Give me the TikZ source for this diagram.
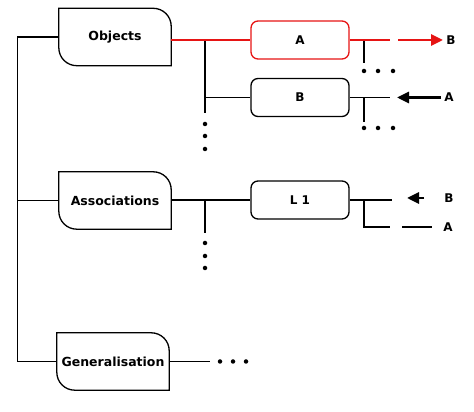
\documentclass[tikz,border=0pt]{standalone}
\usepackage{fontspec}
\setmainfont{DejaVu Sans}
\usetikzlibrary{arrows.meta,calc}
\definecolor{linered}{RGB}{230,20,20}
\newcommand\drawcat[1]{\draw[line width=1.3pt] (#1.north west) -- ($(#1.north east)+(-18,0)$) .. controls ($(#1.north east)+(-8,0)$) and ($(#1.north east)+(0,-8)$) .. ($(#1.north east)+(0,-18)$) -- (#1.south east) -- ($(#1.south west)+(18,0)$) .. controls ($(#1.south west)+(8,0)$) and ($(#1.south west)+(0,8)$) .. ($(#1.south west)+(0,18)$) -- cycle;}
\begin{document}
\begin{tikzpicture}[x=1pt,y=1pt,
  cat/.style={minimum width=112pt,minimum height=57pt,inner sep=0pt,font=\fontsize{12.5}{14}\selectfont\bfseries},
  item/.style={draw,rounded corners=7pt,line width=1.3pt,minimum width=98pt,minimum height=38pt,inner sep=0pt,font=\fontsize{12}{14}\selectfont\bfseries},
  conn/.style={line width=1.3pt},
  dot/.style={circle,fill,inner sep=0pt,minimum size=4.5pt},
  lab/.style={font=\fontsize{12}{14}\selectfont\bfseries,inner sep=0pt},
  thickarrow/.style={line width=2.8pt,-{Triangle[length=12pt,width=11pt]}}
]
\useasboundingbox (0,0) rectangle (474,412);
% category boxes
\node[cat] (obj) at (115,375) {Objects};
\drawcat{obj}
\node[cat] (asc) at (115,211.5) {Associations};
\drawcat{asc}
\node[cat] (gen) at (113,50.5) {Generalisation};
\drawcat{gen}
% items
\node[item,draw=linered] (A) at (300,372) {A};
\node[item] (B) at (300,314.5) {B};
\node[item] (L) at (300,212) {L 1};
% spine
\coordinate (sp) at (17.5,0);
\draw[conn] (obj.west) -| (gen.west -| sp) -- (gen.west);
\draw[conn] (asc.west) -- (asc.west -| sp);
% objects branch
\coordinate (br1) at (205,299);
\draw[conn] (br1 |- A.west) -- (br1);
\draw[conn,linered] (obj.east |- A.west) -- (A.west);
\draw[conn] (B.west -| br1) -- (B.west);
\node[dot] (d1) at (205,288) {};
\node[dot] (d2) at (205,276) {};
\node[dot] (d3) at (205,263) {};
% associations branch
\draw[conn] (asc.east |- L.west) -- (L.west);
\coordinate (br2) at (205,179);
\draw[conn] (br2 |- L.west) -- (br2);
\node[dot] (d4) at (205,169) {};
\node[dot] (d5) at (205,156) {};
\node[dot] (d6) at (205,144) {};
% generalisation
\coordinate (ge) at (210,0);
\draw[conn] (gen.east) -- (gen.east -| ge);
\node[dot] (d7) at (220,50.5) {};
\node[dot] (d8) at (233,50.5) {};
\node[dot] (d9) at (246,50.5) {};
% A right side
\coordinate (ae) at (390,0);
\coordinate (av) at (364,349);
\draw[conn] (av |- A.east) -- (av);
\draw[conn,linered] (A.east) -- (A.east -| ae);
\node[dot] (e1) at (364,341) {};
\node[dot] (e2) at (378,341) {};
\node[dot] (e3) at (393,341) {};
\coordinate (ras) at (398,372);
\coordinate (rae) at (443,372);
\draw[thickarrow,linered] (ras) -- (rae);
\node[lab] (lb1) at (451,372) {B};
% B right side
\draw[conn] (B.east) -- (B.east -| ae);
\coordinate (bv) at (364,290);
\draw[conn] (bv |- B.east) -- (bv);
\node[dot] (e4) at (364,284) {};
\node[dot] (e5) at (378,284) {};
\node[dot] (e6) at (393,284) {};
\coordinate (bas) at (441,314.5);
\coordinate (bae) at (397,314.5);
\draw[thickarrow] (bas) -- (bae);
\node[lab] (lb2) at (449,314.5) {A};
% L1 right side
\coordinate (le) at (392,0);
\draw[conn] (L.east) -- (L.east -| le);
\coordinate (lv) at (364,185);
\coordinate (lh) at (390,185);
\draw[conn] (lv |- L.east) -- (lv) -- (lh);
\coordinate (las) at (424,214);
\coordinate (lae) at (407,214);
\draw[thickarrow] (las) -- (lae);
\node[lab] (lb3) at (449,214) {B};
\coordinate (lls) at (402,185);
\coordinate (lle) at (432,185);
\draw[line width=2.8pt] (lls) -- (lle);
\node[lab] (lb4) at (448,185) {A};
\end{tikzpicture}
\end{document}
